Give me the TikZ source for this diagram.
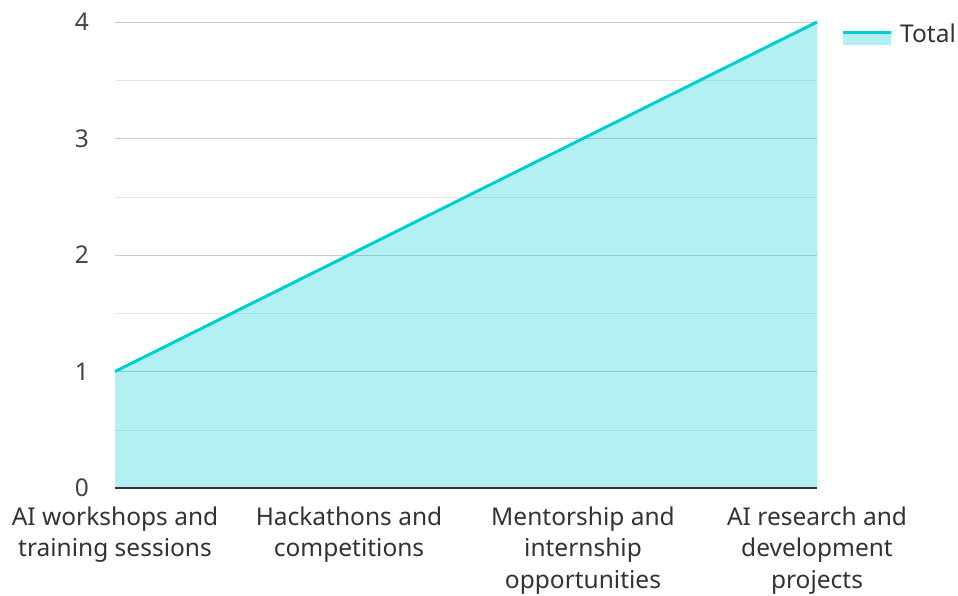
\documentclass[tikz,border=0pt]{standalone}
\usepackage{fontspec}
\setmainfont{Noto Sans}
\usetikzlibrary{positioning}
\definecolor{seriesline}{HTML}{00CED1}
\definecolor{gridmajor}{HTML}{CCCCCC}
\definecolor{gridminor}{HTML}{E6E6E6}
\definecolor{axisdark}{HTML}{333333}
\definecolor{labeltext}{HTML}{444444}
\begin{document}
\begin{tikzpicture}[x=1pt, y=1pt,
  ticklabel/.style={font=\fontsize{24.5}{32}\selectfont, text=labeltext, anchor=east, inner sep=0pt},
  catlabel/.style={font=\fontsize{24.5}{31.5}\selectfont, text=axisdark, align=center, anchor=north, inner sep=0pt}] % {{{
\useasboundingbox (0,0) rectangle (958,595);
\begin{scope}[shift={(115,107)}, x=234pt, y=116.5pt] % Plot area {{{
% Grid {{{
\foreach \v in {0.5,1.5,2.5,3.5} \draw[gridminor] (0,\v) -- (3,\v);
\foreach \v in {1,...,4} \draw[gridmajor] (0,\v) -- (3,\v);
% }}}
% Area and line {{{
\fill[seriesline, opacity=0.3] (0,0) -- (0,1) -- (1,2) -- (2,3) -- (3,4) -- (3,0) -- cycle;
\draw[seriesline, line width=3pt, line join=round] (0,1) -- (1,2) -- (2,3) -- (3,4);
\draw[axisdark, line width=2pt] (0,0) -- (3,0);
% }}}
% Ticks {{{
\foreach \v in {0,...,4} \node[ticklabel] (ytick\v) at ([xshift=-26pt]0,\v) {\v};
\node[catlabel] (xcat0) at ([yshift=-18.5pt]0,0) {AI workshops and\\training sessions};
\node[catlabel] (xcat1) at ([yshift=-18.5pt]1,0) {Hackathons and\\competitions};
\node[catlabel] (xcat2) at ([yshift=-18.5pt]2,0) {Mentorship and\\internship\\opportunities};
\node[catlabel] (xcat3) at ([yshift=-18.5pt]3,0) {AI research and\\development\\projects};
% }}}
\end{scope} % }}}
% Legend {{{
\fill[seriesline, opacity=0.3] (843,550) rectangle (891,562);
\draw[seriesline, line width=3pt] (843,562) -- (891,562);
\node[ticklabel, text=axisdark, anchor=west] (legendtotal) at (900,562) {Total};
% }}}
\end{tikzpicture} % }}}
\end{document}
